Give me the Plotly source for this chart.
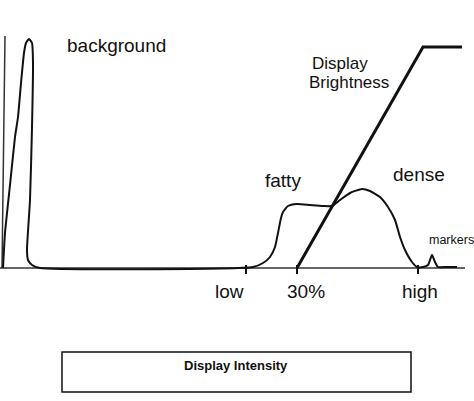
import plotly.graph_objects as go

# Histograma de intensidades (unidades: x = intensidad, y = cuentas relativas)
hist_x = [0, 2, 7, 12, 15, 18, 21, 23, 26, 29, 30, 29, 27, 24, 25, 29, 37,
          250, 260, 267, 272, 275, 278, 280, 285, 294, 307, 320, 329, 337,
          347, 359, 367, 377, 385, 392, 397, 402, 409, 414, 420, 425, 429,
          432, 435, 444, 454]
hist_y = [0, 35, 83, 131, 151, 185, 215, 225, 229, 225, 205, 141, 68, 18, 8, 3, 0,
          1, 5, 11, 21, 35, 50, 56, 62, 64, 63, 62, 62, 68,
          75, 79, 77, 71, 61, 48, 31, 18, 6, 1, 1, 3, 13,
          6, 1, 1, 1]

# Curva de brillo del display
brillo_x = [294, 420, 459]
brillo_y = [0, 221, 221]

# Ejes
eje_x = [-3, 462]
eje_y_x = [-1, 2]
eje_y_y = [0, 232]

# Marcas del eje x
tick_vals = [243, 294, 415]
tick_text = ["low", "30%", "high"]
tick_text_x = [226, 303, 417]

FUENTE = "Liberation Sans, Arial, sans-serif"
NEGRO = "#111111"

fig = go.Figure()

# ejes dibujados a mano
fig.add_trace(go.Scatter(x=eje_x, y=[0, 0], mode="lines",
                         line=dict(color="#333333", width=1.5), hoverinfo="skip"))
fig.add_trace(go.Scatter(x=eje_y_x, y=eje_y_y, mode="lines",
                         line=dict(color="#333333", width=1.5), hoverinfo="skip"))

# histograma
fig.add_trace(go.Scatter(
    x=hist_x, y=hist_y, mode="lines",
    line=dict(color=NEGRO, width=2, shape="spline", smoothing=0.5),
    hoverinfo="skip",
))

# brillo
fig.add_trace(go.Scatter(
    x=brillo_x, y=brillo_y, mode="lines",
    line=dict(color=NEGRO, width=3),
    hoverinfo="skip",
))

# ticks
for t in tick_vals:
    fig.add_trace(go.Scatter(x=[t, t], y=[3, -6], mode="lines",
                             line=dict(color=NEGRO, width=2), hoverinfo="skip"))

for tx, txt in zip(tick_text_x, tick_text):
    fig.add_annotation(x=tx, y=-23, text=txt, showarrow=False,
                       font=dict(size=19, family=FUENTE, color=NEGRO))

# etiquetas
etiquetas = [
    ("background", 113, 223, "center", 19),
    ("Display", 307, 205, "left", 17),
    ("Brightness", 304, 186, "left", 17),
    ("fatty", 280, 88, "center", 19),
    ("dense", 416, 94, "center", 19),
    ("markers", 424, 28, "left", 12.5),
]
for txt, x, y, anc, size in etiquetas:
    fig.add_annotation(x=x, y=y, text=txt, showarrow=False, xanchor=anc,
                       font=dict(size=size, family=FUENTE, color=NEGRO))

# recuadro "Display Intensity"
fig.add_shape(type="rect", x0=59, x1=408, y0=-84, y1=-124,
              line=dict(color=NEGRO, width=1.5))
fig.add_annotation(x=233, y=-97, text="<b>Display Intensity</b>", showarrow=False,
                   font=dict(size=13, family=FUENTE, color=NEGRO))

fig.update_layout(
    width=474,
    height=401,
    margin=dict(l=0, r=0, t=0, b=0),
    showlegend=False,
    plot_bgcolor="white",
    paper_bgcolor="white",
    xaxis=dict(range=[-3, 471], visible=False, fixedrange=True),
    yaxis=dict(range=[-133, 268], visible=False, fixedrange=True),
)

# sin margen del body para que la figura ocupe toda la ventana
fig.write_html("out.html", post_script="document.body.style.margin='0';",
               config={"displayModeBar": False})
